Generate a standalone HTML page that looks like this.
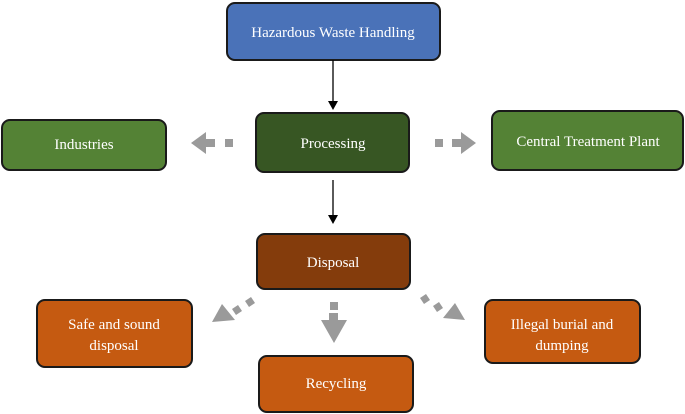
<!DOCTYPE html>
<html><head><style>body{margin:0;background:#fff}svg{display:block}text{font-family:"Liberation Serif",serif;font-size:15px;fill:#fff;text-anchor:middle}</style></head>
<body><svg width="685" height="414" viewBox="0 0 685 414">
<g stroke="#1a1a1a" stroke-width="2">
<rect x="227" y="3" width="213" height="57" rx="8" fill="#4a72b8"/>
<rect x="2" y="120" width="164" height="50" rx="8" fill="#548235"/>
<rect x="256" y="113" width="153" height="59" rx="8" fill="#375623"/>
<rect x="492" y="111" width="191" height="59" rx="8" fill="#548235"/>
<rect x="257" y="234" width="153" height="55" rx="8" fill="#843c0c"/>
<rect x="37" y="300" width="155" height="67" rx="8" fill="#c55a11"/>
<rect x="259" y="356" width="154" height="56" rx="8" fill="#c55a11"/>
<rect x="485" y="300" width="155" height="63" rx="8" fill="#c55a11"/>
</g>
<text x="333" y="37">Hazardous Waste Handling</text>
<text x="84" y="149">Industries</text>
<text x="333" y="148">Processing</text>
<text x="588" y="146">Central Treatment Plant</text>
<text x="333" y="267">Disposal</text>
<text x="114" y="329">Safe and sound</text>
<text x="114" y="350">disposal</text>
<text x="336" y="388">Recycling</text>
<text x="562" y="329">Illegal burial and</text>
<text x="562" y="350">dumping</text>
<g stroke="#000" stroke-width="1.3"><line x1="333" y1="60" x2="333" y2="102"/><line x1="333" y1="180" x2="333" y2="216"/></g>
<polygon points="328,101 338,101 333,110" fill="#000"/>
<polygon points="328,215 338,215 333,224" fill="#000"/>
<g fill="#9a9a9a">
<rect x="225" y="139" width="8" height="8"/><polygon points="191,143 206,132 206,139 215,139 215,147 206,147 206,154"/>
<rect x="435" y="139" width="8" height="8"/><polygon points="476,143 461,132 461,139 452,139 452,147 461,147 461,154"/>
<rect x="330" y="302" width="8" height="8"/><polygon points="329,313 338,313 338,320 347,320 334,343 321,320 329,320"/>
<polygon points="245,301 251,297 255,303 249,307"/><polygon points="232,309 238,305 242,311 236,315"/><polygon points="212,322 222,304 235,320"/>
<polygon points="420,298 426,294 430,300 424,304"/><polygon points="433,306 439,302 443,308 437,312"/><polygon points="465,320 443,318 455,303"/>
</g>
</svg></body></html>
